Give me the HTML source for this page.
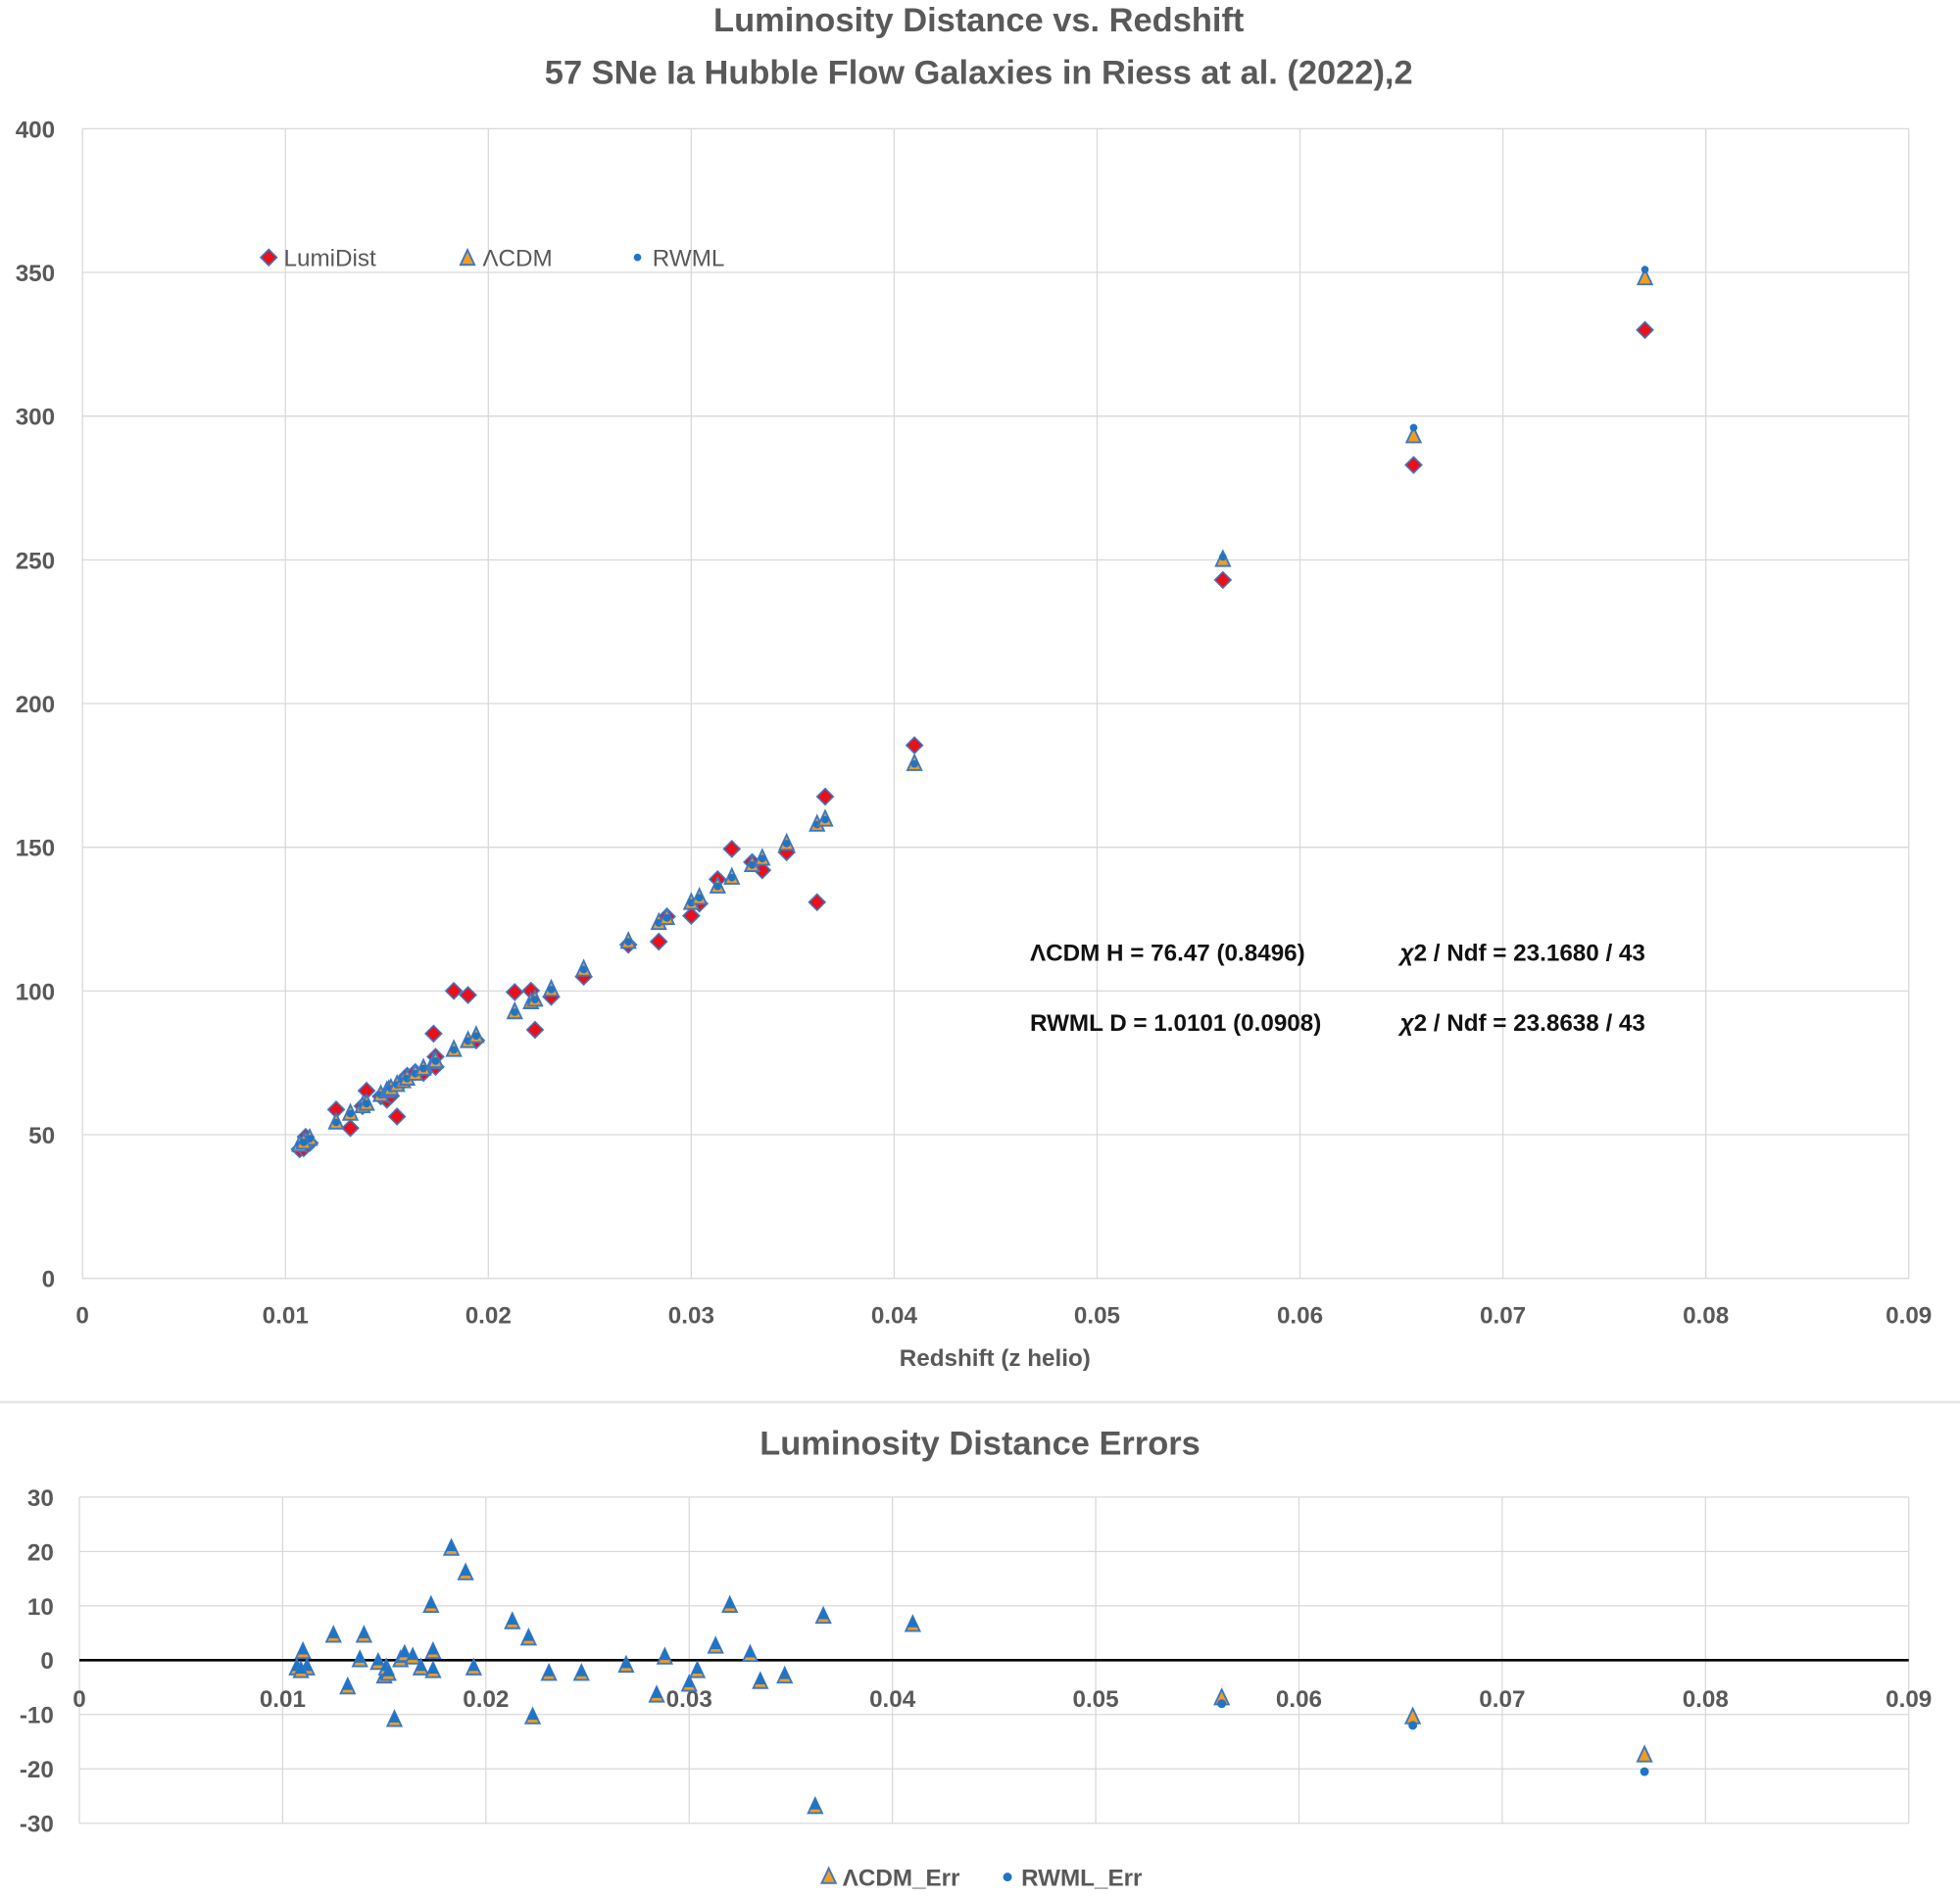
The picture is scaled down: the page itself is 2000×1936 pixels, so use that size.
<!DOCTYPE html>
<html><head><meta charset="utf-8"><style>
html,body{margin:0;padding:0;background:#fff}
svg{display:block}
text{font-family:"Liberation Sans",sans-serif}
</style></head><body>
<svg id="s" xmlns="http://www.w3.org/2000/svg" width="2000" height="1936" viewBox="0 0 1568 1518" preserveAspectRatio="none">
<rect width="1568" height="1518" fill="#fff"/>
<g font-weight="bold" fill="#595959" font-size="27" text-anchor="middle">
<text x="783" y="25">Luminosity Distance vs. Redshift</text>
<text x="783" y="67">57 SNe Ia  Hubble Flow Galaxies in Riess at al. (2022),2</text>
<text x="784" y="1164">Luminosity Distance  Errors</text>
</g>
<line x1="0" y1="1122" x2="1568" y2="1122" stroke="#e6e6e6" stroke-width="2"/>
<g id="g"></g>
<g font-size="19" fill="#595959">
<text x="227" y="213">LumiDist</text>
<text x="386" y="213">ΛCDM</text>
<text x="522" y="213">RWML</text>
<text x="674" y="1509" font-weight="bold">ΛCDM_Err</text>
<text x="817" y="1509" font-weight="bold">RWML_Err</text>
<text x="796" y="1093" text-anchor="middle" font-weight="bold">Redshift (z helio)</text>
</g>
<g font-size="19" font-weight="bold" fill="#111">
<text x="824" y="769">ΛCDM  H = 76.47 (0.8496)</text>
<text x="1120" y="769"><tspan font-style="italic">χ</tspan>2 / Ndf = 23.1680 / 43</text>
<text x="824" y="825">RWML  D = 1.0101 (0.0908)</text>
<text x="1120" y="825"><tspan font-style="italic">χ</tspan>2 / Ndf = 23.8638 / 43</text>
</g>
</svg>
<script>
const NS="http://www.w3.org/2000/svg",g=document.getElementById('g');
function el(t,a,txt){const e=document.createElementNS(NS,t);for(const k in a)e.setAttribute(k,a[k]);if(txt!==undefined)e.textContent=txt;g.appendChild(e);return e;}
const X0=66,X1=1527,Y0=1023,Y1=103;
const mx=z=>X0+(X1-X0)*z/0.09, my=v=>Y0-(Y0-Y1)*v/400;
for(let i=0;i<=9;i++){const x=mx(i*0.01);el('line',{x1:x,y1:Y1,x2:x,y2:Y0,stroke:'#d9d9d9','stroke-width':1});
 el('text',{x:x,y:1059,'text-anchor':'middle','font-size':19,'font-weight':'bold',fill:'#595959'},i==0?'0':(i/100).toFixed(2));}
for(let i=0;i<=8;i++){const y=my(i*50);el('line',{x1:X0,y1:y,x2:X1,y2:y,stroke:'#d9d9d9','stroke-width':1});
 el('text',{x:44,y:y+7,'text-anchor':'end','font-size':19,'font-weight':'bold',fill:'#595959'},String(i*50));}
const E0=63.5,E1=1527,EY=1328.5,ES=4.35;
const ex=z=>E0+(E1-E0)*z/0.09, ey=v=>EY-v*ES;
for(let i=0;i<=9;i++){const x=ex(i*0.01);el('line',{x1:x,y1:1198,x2:x,y2:1459,stroke:'#d9d9d9','stroke-width':1});}
for(let i=-3;i<=3;i++){const y=ey(i*10);el('line',{x1:E0,y1:y,x2:E1,y2:y,stroke:'#d9d9d9','stroke-width':1});
 el('text',{x:43,y:y+7,'text-anchor':'end','font-size':19,'font-weight':'bold',fill:'#595959'},String(i*10));}
el('line',{x1:E0,y1:EY,x2:E1,y2:EY,stroke:'#000','stroke-width':2});
for(let i=0;i<=9;i++){const x=ex(i*0.01);el('text',{x:x,y:1366,'text-anchor':'middle','font-size':19,'font-weight':'bold',fill:'#595959'},i==0?'0':(i/100).toFixed(2));}
const data=[[0.0107,-1.5],[0.0110,1.5],[0.0112,-1.5],[0.0109,-2],[0.0125,4.5],[0.0132,-5],[0.0138,0],[0.0140,4.5],[0.0147,-0.5],[0.0150,-3],[0.0151,-1.5],[0.0152,-2.5],[0.0155,-11],[0.0158,0],[0.0160,1],[0.0164,0.5],[0.0168,-1.5],[0.0173,10],[0.0174,1.5],[0.0174,-2],[0.0183,20.5],[0.0190,16],[0.0194,-1.5],[0.0213,7],[0.0221,4],[0.0223,-10.5],[0.0231,-2.5],[0.0247,-2.5],[0.0269,-1],[0.0284,-6.5],[0.0288,0.5],[0.0300,-4.5],[0.0304,-2],[0.0313,2.5],[0.0320,10],[0.0330,1],[0.0335,-4],[0.0347,-3],[0.0362,-27],[0.0366,8],[0.0410,6.5]];
const big=[[0.0562,243,250,251],[0.0656,283,293,296],[0.0770,330,348,351]];
const lc=z=>4330*z*(1+0.2*z);
const pts=data.map(d=>[d[0],lc(d[0])+d[1],lc(d[0]),lc(d[0])]).concat(big);
function tri(x,y,s){el('polygon',{points:`${x},${y-s} ${x-s*0.8},${y+s*0.7} ${x+s*0.8},${y+s*0.7}`,fill:'#f39c1e',stroke:'#3d78c4','stroke-width':1.5});}
function dia(x,y,s){el('polygon',{points:`${x},${y-s} ${x+s},${y} ${x},${y+s} ${x-s},${y}`,fill:'#e8101a',stroke:'#3d78c4','stroke-width':1.2});}
function dot(x,y,r){el('circle',{cx:x,cy:y,r:r,fill:'#1f74c6'});}
for(const p of pts){const x=mx(p[0]);dia(x,my(p[1]),6.5);}
for(const p of pts){const x=mx(p[0]);tri(x,my(p[2]),7);dot(x,my(p[3]),3);}
for(const d of data){const x=ex(d[0]),y=ey(d[1]);tri(x,y,7);el('polygon',{points:`${x},${y-7} ${x-4.5},${y+2} ${x+4.5},${y+2}`,fill:'#1f74c6'});}
[[0.0562,-7,-8],[0.0656,-10.5,-12],[0.0770,-17.5,-20.5]].forEach(d=>{const x=ex(d[0]);tri(x,ey(d[1]),7);dot(x,ey(d[2]),3.5);});
dia(215,206,6.5);tri(374,207,7);dot(510,206,3);
tri(663,1502,7);dot(806,1502,3.5);
</script>
</body></html>
